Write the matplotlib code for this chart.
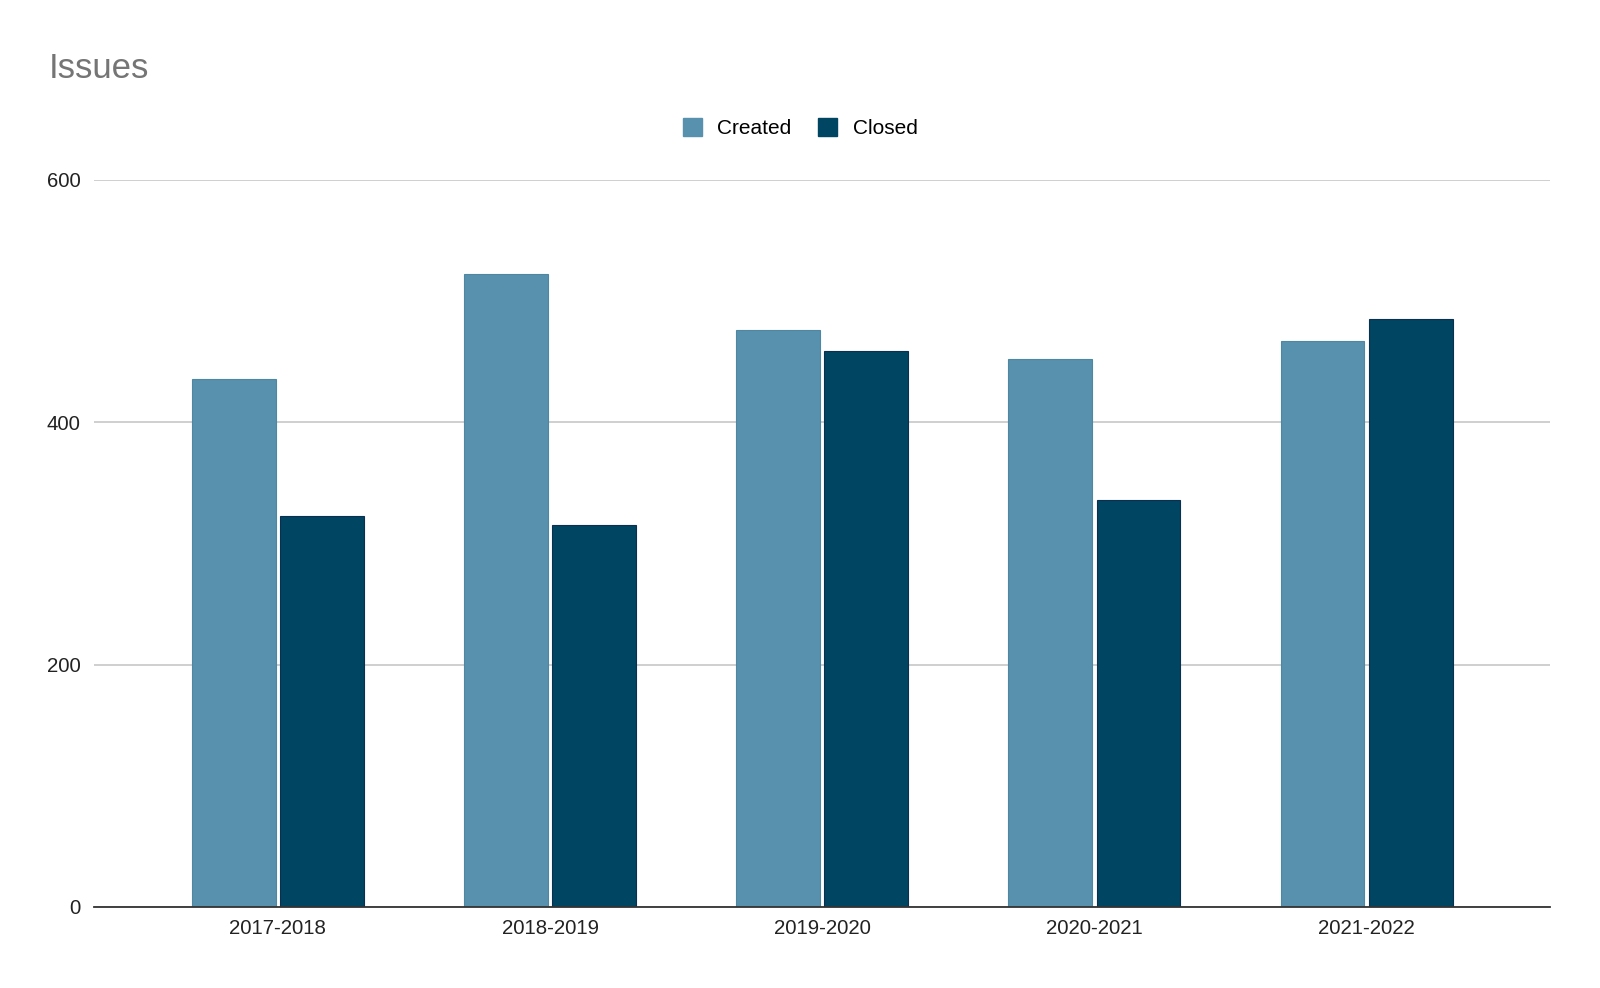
import numpy as np
import matplotlib.pyplot as plt
from matplotlib.patches import Patch

plt.rcParams['font.family'] = ['Liberation Sans', 'DejaVu Sans']

periods = ['2017-2018', '2018-2019', '2019-2020', '2020-2021', '2021-2022']
created = [436, 522, 476, 452, 467]
closed = [323, 315, 459, 336, 485]

C_CREATED = '#5891ad'
C_CLOSED = '#004561'

fig = plt.figure(figsize=[16, 9.88], dpi=100)
ax = fig.add_axes([0.059, 0.082, 0.91, 0.736])

x = np.arange(len(periods))
w = 0.308
off = 0.162
ax.bar(x - off, created, width=w, color=C_CREATED, edgecolor='#4f87a3', linewidth=0.8, zorder=3)
ax.bar(x + off, closed, width=w, color=C_CLOSED, edgecolor='#0a2f4f', linewidth=0.8, zorder=3)

ax.set_xlim(-0.674, len(periods) - 1 + 0.675)
ax.set_ylim(0, 600)
ax.set_yticks([0, 200, 400, 600])
ax.set_xticks(x)
ax.set_xticklabels(periods)
ax.tick_params(axis='both', length=0, labelsize=14.7, colors='#222222')
ax.tick_params(axis='y', pad=10)
ax.tick_params(axis='x', pad=9)
ax.grid(axis='y', color='#cccccc', linewidth=1.3, zorder=0)
for s in ['top', 'right', 'left']:
    ax.spines[s].set_visible(False)
ax.spines['bottom'].set_color('#333333')
ax.spines['bottom'].set_linewidth(1.3)
ax.spines['bottom'].set_zorder(4)

fig.text(0.0305, 0.931, 'Issues', fontsize=25, color='#757575', va='center', ha='left')

handles = [Patch(facecolor=C_CREATED, edgecolor=C_CREATED, label='Created'),
           Patch(facecolor=C_CLOSED, edgecolor=C_CLOSED, label='Closed')]
fig.legend(handles=handles, loc='center', bbox_to_anchor=(0.5, 0.870), ncol=2,
           frameon=False, fontsize=15, handlelength=0.92, handleheight=0.92,
           handletextpad=0.75, columnspacing=1.25)

fig.savefig('out.png', dpi=100, facecolor='white')
